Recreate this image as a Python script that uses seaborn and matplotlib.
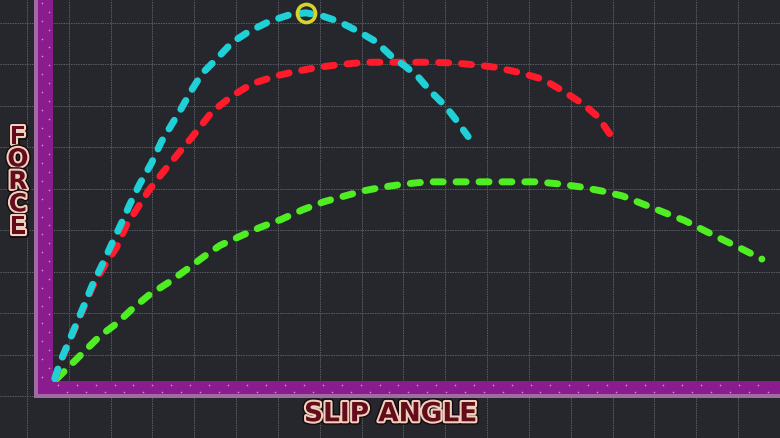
import numpy as np
import pandas as pd
import matplotlib
matplotlib.use("Agg")
import matplotlib.pyplot as plt
import matplotlib.patheffects as pe
from matplotlib.patches import Rectangle
from matplotlib import font_manager
import seaborn as sns

# ---------------- data (slip angle / force, grid units) ----------------
cyan_x = [0.00, 0.12, 0.52, 0.90, 1.14, 1.36, 1.60, 1.79, 2.02, 2.31, 2.55, 3.02,
          3.29, 3.52, 3.86, 4.24, 4.64, 5.12, 5.60, 6.00, 6.38, 6.79, 7.26, 7.67,
          8.05, 8.38, 8.69, 9.00, 9.33, 9.57, 9.88]
cyan_y = [0.00, 0.38, 1.33, 2.26, 2.76, 3.24, 3.76, 4.19, 4.67, 5.19, 5.71, 6.50,
          6.98, 7.35, 7.69, 8.10, 8.36, 8.60, 8.76, 8.81, 8.74, 8.60, 8.36, 8.12,
          7.76, 7.52, 7.26, 6.90, 6.57, 6.26, 5.83]

red_x = [0.00, 0.12, 0.52, 0.90, 1.14, 1.48, 1.71, 1.95, 2.26, 2.57, 2.90, 3.26,
         3.76, 4.24, 4.71, 5.29, 5.76, 6.31, 6.86, 7.43, 7.90, 8.45, 9.00, 9.57,
         10.12, 10.52, 11.07, 11.67, 12.14, 12.62, 12.98, 13.26]
red_y = [0.00, 0.36, 1.30, 2.21, 2.64, 3.17, 3.69, 4.07, 4.55, 4.95, 5.36, 5.79,
         6.43, 6.81, 7.10, 7.29, 7.40, 7.50, 7.57, 7.62, 7.62, 7.62, 7.62, 7.60,
         7.55, 7.50, 7.38, 7.21, 6.93, 6.62, 6.31, 5.90]

green_x = [0.05, 0.29, 0.67, 1.07, 1.48, 1.86, 2.26, 2.74, 3.14, 3.55, 3.95, 4.43,
           4.90, 5.40, 5.93, 6.43, 6.93, 7.36, 7.88, 8.38, 8.90, 9.90, 10.93, 11.52,
           12.05, 12.55, 13.07, 13.57, 14.10, 14.57, 15.05, 15.52, 16.00, 16.43, 16.90]
green_y = [0.00, 0.24, 0.62, 1.02, 1.33, 1.69, 2.02, 2.33, 2.62, 2.93, 3.21, 3.43,
           3.64, 3.83, 4.07, 4.26, 4.40, 4.52, 4.62, 4.69, 4.74, 4.74, 4.74, 4.74,
           4.69, 4.62, 4.52, 4.40, 4.19, 4.00, 3.81, 3.57, 3.33, 3.12, 2.88]

peak_x = [6.00]
peak_y = [8.81]

x_label = "SLIP ANGLE"
y_label = "FORCE"

# ---------------- style ----------------
BG = "#25272c"
GRID = "#5a5d65"
PURPLE = "#8a1c8e"
PURPLE_EDGE = "#a06aa3"
DOT = "#d58ad6"
CYAN = "#1fd0d6"
RED = "#ff1a2c"
GREEN = "#4fee22"
YELLOW = "#d6d42c"

sns.set_style("dark")
avail = {f.name for f in font_manager.fontManager.ttflist}
label_font = "Liberation Sans Narrow" if "Liberation Sans Narrow" in avail else "DejaVu Sans"
plt.rcParams["font.family"] = ["DejaVu Sans"]

fig = plt.figure(figsize=(7.8, 4.38), dpi=100, facecolor=BG)
ax = fig.add_axes([0, 0, 1, 1])
ax.set_facecolor(BG)

# pixel helpers (decorative frame only)
def px(v):
    return (v - 55) / 42.0

def py(v):
    return (383 - v) / 42.0

ax.set_xlim(px(0), px(780))
ax.set_ylim(py(438), py(0))

# grid
ax.set_xticks(np.arange(-0.667, 17.5, 1.0))
ax.set_yticks(np.arange(8.571, -1.5, -1.0))
ax.grid(True, color=GRID, linewidth=0.7, linestyle=(0, (1.5, 1.0)))
ax.tick_params(length=0, labelbottom=False, labelleft=False)
for s in ax.spines.values():
    s.set_visible(False)
ax.set_axisbelow(True)

# purple frame bars
ax.add_patch(Rectangle((px(34), py(403)), px(53) - px(34), py(-5) - py(403),
                       facecolor=PURPLE_EDGE, edgecolor="none", zorder=2))
ax.add_patch(Rectangle((px(34), py(403)), px(790) - px(34), py(385) - py(403),
                       facecolor=PURPLE_EDGE, edgecolor="none", zorder=2))
ax.add_patch(Rectangle((px(38), py(399)), px(53) - px(38), py(-5) - py(399),
                       facecolor=PURPLE, edgecolor="none", zorder=2.1))
ax.add_patch(Rectangle((px(38), py(399)), px(790) - px(38), py(385) - py(399),
                       facecolor=PURPLE, edgecolor="none", zorder=2.1))
# dotted texture
dy = np.arange(3, 384, 9.0)
dxs = np.where(np.arange(len(dy)) % 2 == 0, 42.5, 49.0)
ax.scatter(px(dxs), py(dy), s=1.4, color=DOT, linewidths=0, zorder=2.2)
bx = np.arange(58, 780, 9.5)
bys = np.where(np.arange(len(bx)) % 2 == 0, 389.5, 396.5)
ax.scatter(px(bx), py(bys), s=1.4, color=DOT, linewidths=0, zorder=2.2)

# curves
dash = (0, (1.45, 1.85))
lw = 5.0
sns.lineplot(x=green_x, y=green_y, ax=ax, color=GREEN, linewidth=lw,
             linestyle=dash, dash_capstyle="round", sort=False, zorder=3)
sns.lineplot(x=red_x, y=red_y, ax=ax, color=RED, linewidth=lw,
             linestyle=dash, dash_capstyle="round", sort=False, zorder=3.1)
sns.lineplot(x=cyan_x, y=cyan_y, ax=ax, color=CYAN, linewidth=lw,
             linestyle=dash, dash_capstyle="round", sort=False, zorder=3.2)
ax.plot(peak_x, peak_y, marker="o", markersize=13, markerfacecolor="none",
        markeredgecolor=YELLOW, markeredgewidth=2.6, linestyle="none", zorder=4)

# labels
effects = [pe.Stroke(linewidth=5.0, foreground="#1a080c"),
           pe.Stroke(linewidth=3.0, foreground="#ecd2bd"),
           pe.Normal()]
ax.text(px(392), py(419), x_label, ha="center", va="center", fontsize=19,
        fontweight="bold", family=[label_font, "DejaVu Sans"], color="#650c1c",
        path_effects=effects, zorder=5)
ax.text(px(18), py(184), "\n".join(y_label), ha="center", va="center",
        multialignment="center", fontsize=18, fontweight="bold",
        family=[label_font, "DejaVu Sans"], color="#650c1c", linespacing=0.92,
        path_effects=effects, zorder=5)

fig.savefig("out.png", dpi=100, facecolor=BG)
